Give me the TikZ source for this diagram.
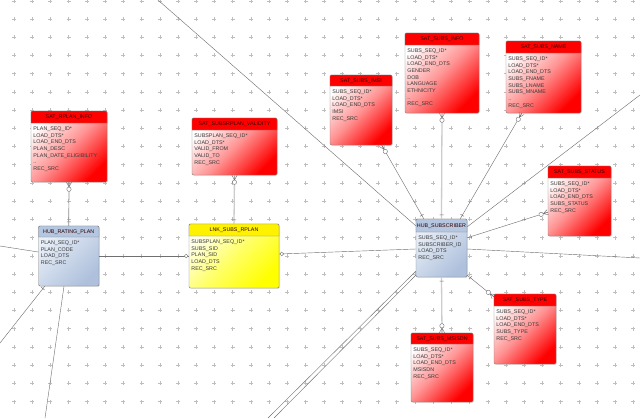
\documentclass[tikz,border=0pt]{standalone}
\usepackage{fontspec}
\setmainfont{Liberation Sans}
\usetikzlibrary{shadows,decorations.markings}
\definecolor{hubhead}{HTML}{B4C6E0}
\definecolor{hubend}{HTML}{AEC0DC}
\definecolor{hubstart}{HTML}{EAF0F8}
\definecolor{linegray}{HTML}{707070}
\definecolor{edgegray}{HTML}{808080}
\definecolor{gridgray}{HTML}{BEBEBE}
\definecolor{txt}{HTML}{3A3A3A}
\tikzset{
  x=1pt,y=-1pt,
  boxbase/.style={draw=edgegray,line width=.45pt,rounded corners=1.3pt,inner sep=0pt,
    drop shadow={shadow xshift=.7pt,shadow yshift=-.7pt,opacity=.35}},
  satbody/.style={boxbase,top color=white,bottom color=red,middle color=red!42!white,shading angle=45},
  hubbody/.style={boxbase,top color=hubstart,bottom color=hubend,shading angle=45},
  lnkbody/.style={boxbase,top color=white!92!yellow,bottom color=yellow,middle color=yellow!60!white,shading angle=45},
  fieldtext/.style={font=\fontsize{5.35}{6.67}\selectfont,text=txt,align=left,inner sep=0pt,anchor=north west},
  titletext/.style={font=\fontsize{5.35}{6.67}\selectfont,text=black!80!red,inner sep=0pt},
  thinline/.style={draw=linegray,line width=.42pt},
  heavyline/.style={draw=black!20,line width=1.3pt},
  midline/.style={draw=black!45,line width=.7pt},
  relfar/.style={postaction={decorate},decoration={markings,
    mark=at position 4pt with {\draw[linegray,line width=.5pt] (0pt,-2pt)--(0pt,2pt);},
    mark=at position -7pt with {
      \draw[linegray,line width=.4pt] (2.2pt,0pt)--(7pt,2.6pt) (2.2pt,0pt)--(7pt,0pt) (2.2pt,0pt)--(7pt,-2.6pt);
      \draw[linegray,line width=.4pt,fill=white] (0pt,0pt) circle[radius=2.2pt];}}},
  relnear/.style={postaction={decorate},decoration={markings,
    mark=at position -2.5pt with {
      \draw[linegray,line width=.4pt,fill=white] (0pt,0pt) circle[radius=1.9pt];}}},
  tickonly/.style={postaction={decorate},decoration={markings,
    mark=at position 3pt with {\draw[linegray,line width=.5pt] (0pt,-2pt)--(0pt,2pt);}}},
}
% id, x1, y1, x2, y2, header bottom, body style, header colour, title, fields
\newcommand{\entitybox}[9]{%
  \def\fieldsarg{#9}%
  \entityboxrest{#1}{#2}{#3}{#4}{#5}{#6}{#7}{#8}}
\newcommand{\entityboxrest}[9]{%
  \node[#7,minimum width={(#4-#2)*1pt},minimum height={(#5-#3)*1pt}] (#1) at ({(#2+#4)/2},{(#3+#5)/2}) {};
  \draw[draw=edgegray,line width=.45pt,fill=#8] (#2,#6) [rounded corners=1.3pt] -- (#2,#3) -- (#4,#3) [sharp corners] -- (#4,#6) -- cycle;
  \node[titletext] (#1-title) at ({(#2+#4)/2},{(#3+#6)/2+.2}) {\fieldsarg};
  \node[fieldtext] (#1-fields) at ({#2+2.2},{#6+3.6}) {#9};
}
\begin{document}
\begin{tikzpicture}
\useasboundingbox (0,0) rectangle (640,418);
\fill[white] (0,0) rectangle (640,418);
% grid of crosses
\foreach \i in {0,...,34}{\foreach \j in {0,...,22}{
  \pgfmathsetmacro{\gx}{14+18.22*\i}\pgfmathsetmacro{\gy}{.7+18.22*\j}
  \draw[gridgray,line width=.4pt] (\gx-2,\gy)--(\gx+2,\gy) (\gx,\gy-2)--(\gx,\gy+2);
}}
% free ends
\coordinate (freeTL) at (158,0);
\coordinate (freeTR) at (640,95);
\coordinate (freeR) at (640,258);
\coordinate (freeL) at (0,246);
\coordinate (freeBL) at (0,343);
\coordinate (freeB) at (45,418);
\coordinate (freeD1) at (268,418);
\coordinate (freeD2) at (274,418);
% boxes
\entitybox{rplan}{31}{111}{107}{182}{123}{satbody}{red}{SAT\_RPLAN\_INFO}{PLAN\_SEQ\_ID*\\LOAD\_DTS*\\LOAD\_END\_DTS\\PLAN\_DESC\\PLAN\_DATE\_ELIGIBILITY\\..\\REC\_SRC}
\entitybox{valid}{192}{118}{277}{175}{130}{satbody}{red}{SAT\_SUBSRPLAN\_VALIDITY}{SUBSPLAN\_SEQ\_ID*\\LOAD\_DTS*\\VALID\_FROM\\VALID\_TO\\REC\_SRC}
\entitybox{imsi}{330}{75}{392}{145}{86}{satbody}{red}{SAT\_SUBS\_IMSI}{SUBS\_SEQ\_ID*\\LOAD\_DTS*\\LOAD\_END\_DTS\\IMSI\\REC\_SRC}
\entitybox{info}{405}{33}{479}{113}{45}{satbody}{red}{SAT\_SUBS\_INFO}{SUBS\_SEQ\_ID*\\LOAD\_DTS*\\LOAD\_END\_DTS\\GENDER\\DOB\\LANGUAGE\\ETHNICITY\\..\\REC\_SRC}
\entitybox{sname}{506}{41}{581}{113}{53}{satbody}{red}{SAT\_SUBS\_NAME}{SUBS\_SEQ\_ID*\\LOAD\_DTS*\\LOAD\_END\_DTS\\SUBS\_FNAME\\SUBS\_LNAME\\SUBS\_MNAME\\..\\REC\_SRC}
\entitybox{status}{548}{166}{611}{236}{178}{satbody}{red}{SAT\_SUBS\_STATUS}{SUBS\_SEQ\_ID*\\LOAD\_DTS*\\LOAD\_END\_DTS\\SUBS\_STATUS\\REC\_SRC}
\entitybox{stype}{494}{294}{556}{364}{306}{satbody}{red}{SAT\_SUBS\_TYPE}{SUBS\_SEQ\_ID*\\LOAD\_DTS*\\LOAD\_END\_DTS\\SUBS\_TYPE\\REC\_SRC}
\entitybox{msisdn}{411}{333}{473}{402}{344}{satbody}{red}{SAT\_SUBS\_MSISDN}{SUBS\_SEQ\_ID*\\LOAD\_DTS*\\LOAD\_END\_DTS\\MSISDN\\REC\_SRC}
\entitybox{hubR}{38.5}{226}{99}{286}{237}{hubbody}{hubhead}{HUB\_RATING\_PLAN}{PLAN\_SEQ\_ID*\\PLAN\_CODE\\LOAD\_DTS\\REC\_SRC}
\entitybox{hubS}{416}{219}{467}{277}{232}{hubbody}{hubhead}{HUB\_SUBSCRIBER}{SUBS\_SEQ\_ID*\\SUBSCRIBER\_ID\\LOAD\_DTS\\REC\_SRC}
\entitybox{lnk}{189}{224}{279}{288}{236}{lnkbody}{yellow}{LNK\_SUBS\_RPLAN}{SUBSPLAN\_SEQ\_ID*\\SUBS\_SID\\PLAN\_SID\\LOAD\_DTS\\REC\_SRC}
% connectors
\draw[midline,relfar] (hubR.north) -- (rplan.south);
\draw[heavyline,relfar] (lnk.north) -- (valid.south);
\draw[heavyline,relfar] (hubS.north) -- (info.south);
\draw[heavyline,relfar] (hubS.south) -- (msisdn.north);
\draw[thinline,relfar] ([xshift=8pt]hubS.north west) -- ([xshift=-10.5pt]imsi.south east);
\draw[thinline,relfar] ([xshift=-7pt]hubS.north east) -- ([xshift=16pt]sname.south west);
\draw[thinline,relfar] ([yshift=-19pt]hubS.north east) -- ([yshift=24pt]status.south west);
\draw[thinline,relfar] ([yshift=2pt]hubS.south east) -- ([yshift=-3pt]stype.north west);
\draw[thinline,relnear] (hubR.east) -- (lnk.west);
\draw[thinline,relnear] ([yshift=-1pt]hubS.west) -- ([yshift=2pt]lnk.east);
\draw[thinline] (freeTL) -- ([yshift=-7pt]hubS.north west);
\draw[thinline] ([yshift=-8pt]hubS.north east) -- (freeTR);
\draw[thinline] ([yshift=-1pt]hubS.east) -- (freeR);
\draw[thinline] ([yshift=6pt]hubS.south west) -- (freeD1);
\draw[thinline] ([yshift=2pt]hubS.south west) -- (freeD2);
\draw[thinline] ([yshift=4pt]hubR.west) -- (freeL);
\draw[thinline,tickonly] ([xshift=6.5pt]hubR.south west) -- (freeBL);
\draw[thinline] ([xshift=-4.75pt]hubR.south) -- (freeB);
\end{tikzpicture}
\end{document}
